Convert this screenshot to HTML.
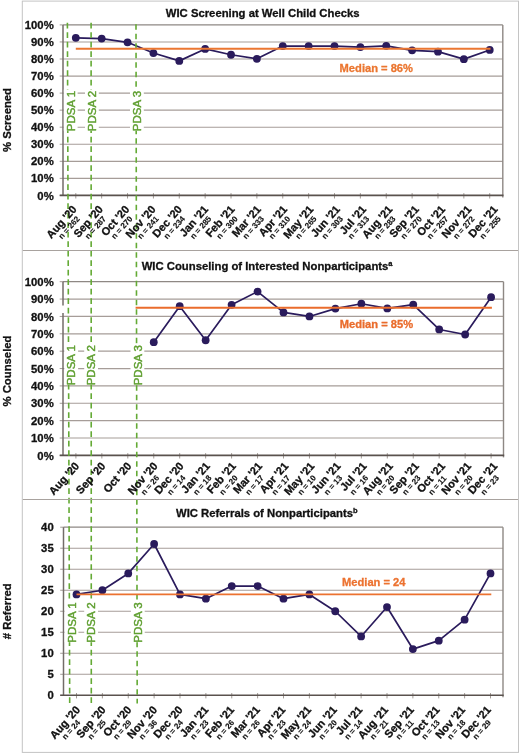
<!DOCTYPE html>
<html><head><meta charset="utf-8"><title>WIC charts</title>
<style>
html,body{margin:0;padding:0;background:#fff;}
body{width:520px;height:754px;overflow:hidden;}
svg{display:block;}
text{font-family:'Liberation Sans', Arial, sans-serif;}
.b{font-size:11.3px;font-weight:bold;fill:#111111;stroke:#111111;stroke-width:0.3px;}
.xl{font-size:11px;}
.n{font-size:8px;font-weight:bold;fill:#111111;stroke:#111111;stroke-width:0.15px;}
.g{font-size:11.5px;fill:#5f9f30;stroke:#5f9f30;stroke-width:0.45px;}
</style></head><body>
<svg width="520" height="754" viewBox="0 0 520 754">
<rect x="0" y="0" width="520" height="754" fill="#fff"/>
<line x1="63" y1="178.35" x2="502.8" y2="178.35" stroke="#a69d98" stroke-width="1.15"/>
<line x1="63" y1="161.3" x2="502.8" y2="161.3" stroke="#a69d98" stroke-width="1.15"/>
<line x1="63" y1="144.25" x2="502.8" y2="144.25" stroke="#a69d98" stroke-width="1.15"/>
<line x1="63" y1="127.2" x2="502.8" y2="127.2" stroke="#a69d98" stroke-width="1.15"/>
<line x1="63" y1="110.15" x2="502.8" y2="110.15" stroke="#a69d98" stroke-width="1.15"/>
<line x1="63" y1="93.1" x2="502.8" y2="93.1" stroke="#a69d98" stroke-width="1.15"/>
<line x1="63" y1="76.05" x2="502.8" y2="76.05" stroke="#a69d98" stroke-width="1.15"/>
<line x1="63" y1="59" x2="502.8" y2="59" stroke="#a69d98" stroke-width="1.15"/>
<line x1="63" y1="41.95" x2="502.8" y2="41.95" stroke="#a69d98" stroke-width="1.15"/>
<line x1="63" y1="24.9" x2="502.8" y2="24.9" stroke="#8e8884" stroke-width="1.3"/>
<line x1="502.8" y1="24.9" x2="502.8" y2="197.4" stroke="#8e8884" stroke-width="1.4"/>
<line x1="59.7" y1="195.4" x2="63" y2="195.4" stroke="#a39c97" stroke-width="1"/>
<line x1="59.7" y1="178.35" x2="63" y2="178.35" stroke="#a39c97" stroke-width="1"/>
<line x1="59.7" y1="161.3" x2="63" y2="161.3" stroke="#a39c97" stroke-width="1"/>
<line x1="59.7" y1="144.25" x2="63" y2="144.25" stroke="#a39c97" stroke-width="1"/>
<line x1="59.7" y1="127.2" x2="63" y2="127.2" stroke="#a39c97" stroke-width="1"/>
<line x1="59.7" y1="110.15" x2="63" y2="110.15" stroke="#a39c97" stroke-width="1"/>
<line x1="59.7" y1="93.1" x2="63" y2="93.1" stroke="#a39c97" stroke-width="1"/>
<line x1="59.7" y1="76.05" x2="63" y2="76.05" stroke="#a39c97" stroke-width="1"/>
<line x1="59.7" y1="59" x2="63" y2="59" stroke="#a39c97" stroke-width="1"/>
<line x1="59.7" y1="41.95" x2="63" y2="41.95" stroke="#a39c97" stroke-width="1"/>
<line x1="59.7" y1="24.9" x2="63" y2="24.9" stroke="#a39c97" stroke-width="1"/>
<line x1="63" y1="24.9" x2="63" y2="195.4" stroke="#736c68" stroke-width="1.5"/>
<line x1="75.8" y1="193.1" x2="75.8" y2="198.5" stroke="#a39c97" stroke-width="1"/>
<line x1="101.67" y1="193.1" x2="101.67" y2="198.5" stroke="#a39c97" stroke-width="1"/>
<line x1="127.54" y1="193.1" x2="127.54" y2="198.5" stroke="#a39c97" stroke-width="1"/>
<line x1="153.41" y1="193.1" x2="153.41" y2="198.5" stroke="#a39c97" stroke-width="1"/>
<line x1="179.28" y1="193.1" x2="179.28" y2="198.5" stroke="#a39c97" stroke-width="1"/>
<line x1="205.15" y1="193.1" x2="205.15" y2="198.5" stroke="#a39c97" stroke-width="1"/>
<line x1="231.02" y1="193.1" x2="231.02" y2="198.5" stroke="#a39c97" stroke-width="1"/>
<line x1="256.89" y1="193.1" x2="256.89" y2="198.5" stroke="#a39c97" stroke-width="1"/>
<line x1="282.76" y1="193.1" x2="282.76" y2="198.5" stroke="#a39c97" stroke-width="1"/>
<line x1="308.63" y1="193.1" x2="308.63" y2="198.5" stroke="#a39c97" stroke-width="1"/>
<line x1="334.5" y1="193.1" x2="334.5" y2="198.5" stroke="#a39c97" stroke-width="1"/>
<line x1="360.37" y1="193.1" x2="360.37" y2="198.5" stroke="#a39c97" stroke-width="1"/>
<line x1="386.24" y1="193.1" x2="386.24" y2="198.5" stroke="#a39c97" stroke-width="1"/>
<line x1="412.11" y1="193.1" x2="412.11" y2="198.5" stroke="#a39c97" stroke-width="1"/>
<line x1="437.98" y1="193.1" x2="437.98" y2="198.5" stroke="#a39c97" stroke-width="1"/>
<line x1="463.85" y1="193.1" x2="463.85" y2="198.5" stroke="#a39c97" stroke-width="1"/>
<line x1="489.72" y1="193.1" x2="489.72" y2="198.5" stroke="#a39c97" stroke-width="1"/>
<line x1="59.7" y1="195.4" x2="503.5" y2="195.4" stroke="#5a524e" stroke-width="1.6"/>
<line x1="63" y1="438.03" x2="503.5" y2="438.03" stroke="#a69d98" stroke-width="1.15"/>
<line x1="63" y1="420.66" x2="503.5" y2="420.66" stroke="#a69d98" stroke-width="1.15"/>
<line x1="63" y1="403.29" x2="503.5" y2="403.29" stroke="#a69d98" stroke-width="1.15"/>
<line x1="63" y1="385.92" x2="503.5" y2="385.92" stroke="#a69d98" stroke-width="1.15"/>
<line x1="63" y1="368.55" x2="503.5" y2="368.55" stroke="#a69d98" stroke-width="1.15"/>
<line x1="63" y1="351.18" x2="503.5" y2="351.18" stroke="#a69d98" stroke-width="1.15"/>
<line x1="63" y1="333.81" x2="503.5" y2="333.81" stroke="#a69d98" stroke-width="1.15"/>
<line x1="63" y1="316.44" x2="503.5" y2="316.44" stroke="#a69d98" stroke-width="1.15"/>
<line x1="63" y1="299.07" x2="503.5" y2="299.07" stroke="#a69d98" stroke-width="1.15"/>
<line x1="63" y1="281.7" x2="503.5" y2="281.7" stroke="#8e8884" stroke-width="1.3"/>
<line x1="503.5" y1="281.7" x2="503.5" y2="457.4" stroke="#8e8884" stroke-width="1.4"/>
<line x1="59.7" y1="455.4" x2="63" y2="455.4" stroke="#a39c97" stroke-width="1"/>
<line x1="59.7" y1="438.03" x2="63" y2="438.03" stroke="#a39c97" stroke-width="1"/>
<line x1="59.7" y1="420.66" x2="63" y2="420.66" stroke="#a39c97" stroke-width="1"/>
<line x1="59.7" y1="403.29" x2="63" y2="403.29" stroke="#a39c97" stroke-width="1"/>
<line x1="59.7" y1="385.92" x2="63" y2="385.92" stroke="#a39c97" stroke-width="1"/>
<line x1="59.7" y1="368.55" x2="63" y2="368.55" stroke="#a39c97" stroke-width="1"/>
<line x1="59.7" y1="351.18" x2="63" y2="351.18" stroke="#a39c97" stroke-width="1"/>
<line x1="59.7" y1="333.81" x2="63" y2="333.81" stroke="#a39c97" stroke-width="1"/>
<line x1="59.7" y1="316.44" x2="63" y2="316.44" stroke="#a39c97" stroke-width="1"/>
<line x1="59.7" y1="299.07" x2="63" y2="299.07" stroke="#a39c97" stroke-width="1"/>
<line x1="59.7" y1="281.7" x2="63" y2="281.7" stroke="#a39c97" stroke-width="1"/>
<line x1="63" y1="281.7" x2="63" y2="305.6" stroke="#736c68" stroke-width="1.5"/>
<line x1="63" y1="313" x2="63" y2="455.4" stroke="#736c68" stroke-width="1.5"/>
<line x1="75.9" y1="453.1" x2="75.9" y2="458.5" stroke="#a39c97" stroke-width="1"/>
<line x1="101.85" y1="453.1" x2="101.85" y2="458.5" stroke="#a39c97" stroke-width="1"/>
<line x1="127.8" y1="453.1" x2="127.8" y2="458.5" stroke="#a39c97" stroke-width="1"/>
<line x1="153.75" y1="453.1" x2="153.75" y2="458.5" stroke="#a39c97" stroke-width="1"/>
<line x1="179.7" y1="453.1" x2="179.7" y2="458.5" stroke="#a39c97" stroke-width="1"/>
<line x1="205.65" y1="453.1" x2="205.65" y2="458.5" stroke="#a39c97" stroke-width="1"/>
<line x1="231.6" y1="453.1" x2="231.6" y2="458.5" stroke="#a39c97" stroke-width="1"/>
<line x1="257.55" y1="453.1" x2="257.55" y2="458.5" stroke="#a39c97" stroke-width="1"/>
<line x1="283.5" y1="453.1" x2="283.5" y2="458.5" stroke="#a39c97" stroke-width="1"/>
<line x1="309.45" y1="453.1" x2="309.45" y2="458.5" stroke="#a39c97" stroke-width="1"/>
<line x1="335.4" y1="453.1" x2="335.4" y2="458.5" stroke="#a39c97" stroke-width="1"/>
<line x1="361.35" y1="453.1" x2="361.35" y2="458.5" stroke="#a39c97" stroke-width="1"/>
<line x1="387.3" y1="453.1" x2="387.3" y2="458.5" stroke="#a39c97" stroke-width="1"/>
<line x1="413.25" y1="453.1" x2="413.25" y2="458.5" stroke="#a39c97" stroke-width="1"/>
<line x1="439.2" y1="453.1" x2="439.2" y2="458.5" stroke="#a39c97" stroke-width="1"/>
<line x1="465.15" y1="453.1" x2="465.15" y2="458.5" stroke="#a39c97" stroke-width="1"/>
<line x1="491.1" y1="453.1" x2="491.1" y2="458.5" stroke="#a39c97" stroke-width="1"/>
<line x1="59.7" y1="455.4" x2="504.2" y2="455.4" stroke="#5a524e" stroke-width="1.6"/>
<line x1="63.5" y1="674.29" x2="503" y2="674.29" stroke="#a69d98" stroke-width="1.15"/>
<line x1="63.5" y1="653.27" x2="503" y2="653.27" stroke="#a69d98" stroke-width="1.15"/>
<line x1="63.5" y1="632.26" x2="503" y2="632.26" stroke="#a69d98" stroke-width="1.15"/>
<line x1="63.5" y1="611.25" x2="503" y2="611.25" stroke="#a69d98" stroke-width="1.15"/>
<line x1="63.5" y1="590.24" x2="503" y2="590.24" stroke="#a69d98" stroke-width="1.15"/>
<line x1="63.5" y1="569.23" x2="503" y2="569.23" stroke="#a69d98" stroke-width="1.15"/>
<line x1="63.5" y1="548.21" x2="503" y2="548.21" stroke="#a69d98" stroke-width="1.15"/>
<line x1="63.5" y1="527.2" x2="503" y2="527.2" stroke="#8e8884" stroke-width="1.3"/>
<line x1="503" y1="527.2" x2="503" y2="697.3" stroke="#8e8884" stroke-width="1.4"/>
<line x1="60.2" y1="695.3" x2="63.5" y2="695.3" stroke="#a39c97" stroke-width="1"/>
<line x1="60.2" y1="674.29" x2="63.5" y2="674.29" stroke="#a39c97" stroke-width="1"/>
<line x1="60.2" y1="653.27" x2="63.5" y2="653.27" stroke="#a39c97" stroke-width="1"/>
<line x1="60.2" y1="632.26" x2="63.5" y2="632.26" stroke="#a39c97" stroke-width="1"/>
<line x1="60.2" y1="611.25" x2="63.5" y2="611.25" stroke="#a39c97" stroke-width="1"/>
<line x1="60.2" y1="590.24" x2="63.5" y2="590.24" stroke="#a39c97" stroke-width="1"/>
<line x1="60.2" y1="569.23" x2="63.5" y2="569.23" stroke="#a39c97" stroke-width="1"/>
<line x1="60.2" y1="548.21" x2="63.5" y2="548.21" stroke="#a39c97" stroke-width="1"/>
<line x1="60.2" y1="527.2" x2="63.5" y2="527.2" stroke="#a39c97" stroke-width="1"/>
<line x1="63.5" y1="527.2" x2="63.5" y2="695.3" stroke="#736c68" stroke-width="1.5"/>
<line x1="76.5" y1="693" x2="76.5" y2="698.4" stroke="#a39c97" stroke-width="1"/>
<line x1="102.38" y1="693" x2="102.38" y2="698.4" stroke="#a39c97" stroke-width="1"/>
<line x1="128.25" y1="693" x2="128.25" y2="698.4" stroke="#a39c97" stroke-width="1"/>
<line x1="154.12" y1="693" x2="154.12" y2="698.4" stroke="#a39c97" stroke-width="1"/>
<line x1="180" y1="693" x2="180" y2="698.4" stroke="#a39c97" stroke-width="1"/>
<line x1="205.88" y1="693" x2="205.88" y2="698.4" stroke="#a39c97" stroke-width="1"/>
<line x1="231.75" y1="693" x2="231.75" y2="698.4" stroke="#a39c97" stroke-width="1"/>
<line x1="257.62" y1="693" x2="257.62" y2="698.4" stroke="#a39c97" stroke-width="1"/>
<line x1="283.5" y1="693" x2="283.5" y2="698.4" stroke="#a39c97" stroke-width="1"/>
<line x1="309.38" y1="693" x2="309.38" y2="698.4" stroke="#a39c97" stroke-width="1"/>
<line x1="335.25" y1="693" x2="335.25" y2="698.4" stroke="#a39c97" stroke-width="1"/>
<line x1="361.12" y1="693" x2="361.12" y2="698.4" stroke="#a39c97" stroke-width="1"/>
<line x1="387" y1="693" x2="387" y2="698.4" stroke="#a39c97" stroke-width="1"/>
<line x1="412.88" y1="693" x2="412.88" y2="698.4" stroke="#a39c97" stroke-width="1"/>
<line x1="438.75" y1="693" x2="438.75" y2="698.4" stroke="#a39c97" stroke-width="1"/>
<line x1="464.62" y1="693" x2="464.62" y2="698.4" stroke="#a39c97" stroke-width="1"/>
<line x1="490.5" y1="693" x2="490.5" y2="698.4" stroke="#a39c97" stroke-width="1"/>
<line x1="60.2" y1="695.3" x2="503.7" y2="695.3" stroke="#5a524e" stroke-width="1.6"/>
<polyline fill="none" stroke="#2a1b5c" stroke-width="1.7" stroke-linejoin="round" points="75.8,37.86 101.67,38.54 127.54,42.29 153.41,53.03 179.28,60.88 205.15,48.94 231.02,54.74 256.89,58.83 282.76,46.04 308.63,46.04 334.5,46.04 360.37,47.06 386.24,45.87 412.11,50.3 437.98,51.67 463.85,59.17 489.72,49.96"/>
<circle cx="75.8" cy="37.86" r="3.9" fill="#2a1b5c"/>
<circle cx="101.67" cy="38.54" r="3.9" fill="#2a1b5c"/>
<circle cx="127.54" cy="42.29" r="3.9" fill="#2a1b5c"/>
<circle cx="153.41" cy="53.03" r="3.9" fill="#2a1b5c"/>
<circle cx="179.28" cy="60.88" r="3.9" fill="#2a1b5c"/>
<circle cx="205.15" cy="48.94" r="3.9" fill="#2a1b5c"/>
<circle cx="231.02" cy="54.74" r="3.9" fill="#2a1b5c"/>
<circle cx="256.89" cy="58.83" r="3.9" fill="#2a1b5c"/>
<circle cx="282.76" cy="46.04" r="3.9" fill="#2a1b5c"/>
<circle cx="308.63" cy="46.04" r="3.9" fill="#2a1b5c"/>
<circle cx="334.5" cy="46.04" r="3.9" fill="#2a1b5c"/>
<circle cx="360.37" cy="47.06" r="3.9" fill="#2a1b5c"/>
<circle cx="386.24" cy="45.87" r="3.9" fill="#2a1b5c"/>
<circle cx="412.11" cy="50.3" r="3.9" fill="#2a1b5c"/>
<circle cx="437.98" cy="51.67" r="3.9" fill="#2a1b5c"/>
<circle cx="463.85" cy="59.17" r="3.9" fill="#2a1b5c"/>
<circle cx="489.72" cy="49.96" r="3.9" fill="#2a1b5c"/>
<polyline fill="none" stroke="#2a1b5c" stroke-width="1.7" stroke-linejoin="round" points="153.75,342.15 179.7,306.19 205.65,340.24 231.6,304.8 257.55,291.6 283.5,312.44 309.45,316.44 335.4,308.62 361.35,303.76 387.3,308.45 413.25,304.63 439.2,329.47 465.15,334.5 491.1,297.16"/>
<circle cx="153.75" cy="342.15" r="3.9" fill="#2a1b5c"/>
<circle cx="179.7" cy="306.19" r="3.9" fill="#2a1b5c"/>
<circle cx="205.65" cy="340.24" r="3.9" fill="#2a1b5c"/>
<circle cx="231.6" cy="304.8" r="3.9" fill="#2a1b5c"/>
<circle cx="257.55" cy="291.6" r="3.9" fill="#2a1b5c"/>
<circle cx="283.5" cy="312.44" r="3.9" fill="#2a1b5c"/>
<circle cx="309.45" cy="316.44" r="3.9" fill="#2a1b5c"/>
<circle cx="335.4" cy="308.62" r="3.9" fill="#2a1b5c"/>
<circle cx="361.35" cy="303.76" r="3.9" fill="#2a1b5c"/>
<circle cx="387.3" cy="308.45" r="3.9" fill="#2a1b5c"/>
<circle cx="413.25" cy="304.63" r="3.9" fill="#2a1b5c"/>
<circle cx="439.2" cy="329.47" r="3.9" fill="#2a1b5c"/>
<circle cx="465.15" cy="334.5" r="3.9" fill="#2a1b5c"/>
<circle cx="491.1" cy="297.16" r="3.9" fill="#2a1b5c"/>
<polyline fill="none" stroke="#2a1b5c" stroke-width="1.7" stroke-linejoin="round" points="76.5,594.44 102.38,590.24 128.25,573.43 154.12,544.01 180,594.44 205.88,598.64 231.75,586.03 257.62,586.03 283.5,598.64 309.38,594.44 335.25,611.25 361.12,636.47 387,607.05 412.88,649.07 438.75,640.67 464.62,619.65 490.5,573.43"/>
<circle cx="76.5" cy="594.44" r="3.9" fill="#2a1b5c"/>
<circle cx="102.38" cy="590.24" r="3.9" fill="#2a1b5c"/>
<circle cx="128.25" cy="573.43" r="3.9" fill="#2a1b5c"/>
<circle cx="154.12" cy="544.01" r="3.9" fill="#2a1b5c"/>
<circle cx="180" cy="594.44" r="3.9" fill="#2a1b5c"/>
<circle cx="205.88" cy="598.64" r="3.9" fill="#2a1b5c"/>
<circle cx="231.75" cy="586.03" r="3.9" fill="#2a1b5c"/>
<circle cx="257.62" cy="586.03" r="3.9" fill="#2a1b5c"/>
<circle cx="283.5" cy="598.64" r="3.9" fill="#2a1b5c"/>
<circle cx="309.38" cy="594.44" r="3.9" fill="#2a1b5c"/>
<circle cx="335.25" cy="611.25" r="3.9" fill="#2a1b5c"/>
<circle cx="361.12" cy="636.47" r="3.9" fill="#2a1b5c"/>
<circle cx="387" cy="607.05" r="3.9" fill="#2a1b5c"/>
<circle cx="412.88" cy="649.07" r="3.9" fill="#2a1b5c"/>
<circle cx="438.75" cy="640.67" r="3.9" fill="#2a1b5c"/>
<circle cx="464.62" cy="619.65" r="3.9" fill="#2a1b5c"/>
<circle cx="490.5" cy="573.43" r="3.9" fill="#2a1b5c"/>
<line x1="67.4" y1="22.8" x2="69.7" y2="703.5" stroke="#64aa35" stroke-width="1.6" stroke-dasharray="5.6 3.9"/>
<line x1="91.1" y1="22.8" x2="91.3" y2="703.5" stroke="#64aa35" stroke-width="1.6" stroke-dasharray="5.6 3.9"/>
<line x1="136" y1="24.2" x2="137.2" y2="703.5" stroke="#64aa35" stroke-width="1.6" stroke-dasharray="5.6 3.9"/>
<line x1="75.8" y1="48.77" x2="490.52" y2="48.77" stroke="#eb7630" stroke-width="2.0"/>
<line x1="135.6" y1="307.75" x2="491.9" y2="307.75" stroke="#ea6c2c" stroke-width="2.0"/>
<line x1="76.5" y1="594.44" x2="491.3" y2="594.44" stroke="#ec7230" stroke-width="1.8"/>
<text x="53.7" y="199.5" text-anchor="end" class="b">0%</text>
<text x="53.7" y="182.45" text-anchor="end" class="b">10%</text>
<text x="53.7" y="165.4" text-anchor="end" class="b">20%</text>
<text x="53.7" y="148.35" text-anchor="end" class="b">30%</text>
<text x="53.7" y="131.3" text-anchor="end" class="b">40%</text>
<text x="53.7" y="114.25" text-anchor="end" class="b">50%</text>
<text x="53.7" y="97.2" text-anchor="end" class="b">60%</text>
<text x="53.7" y="80.15" text-anchor="end" class="b">70%</text>
<text x="53.7" y="63.1" text-anchor="end" class="b">80%</text>
<text x="53.7" y="46.05" text-anchor="end" class="b">90%</text>
<text x="53.7" y="29" text-anchor="end" class="b">100%</text>
<text x="165.8" y="17.3" class="b">WIC Screening at Well Child Checks</text>
<text x="339.6" y="71.9" class="b" style="font-size:11.15px;fill:#eb7630;stroke:#eb7630">Median = 86%</text>
<text transform="translate(11.2,120) rotate(-90)" text-anchor="middle" class="b">% Screened</text>
<text transform="translate(77.3,209.7) rotate(-48.5)" text-anchor="end" class="b xl">Aug '20</text>
<text transform="translate(62.06,239.61) rotate(-48.5)" class="n">n = 262</text>
<text transform="translate(103.62,209.7) rotate(-48.5)" text-anchor="end" class="b xl">Sep '20</text>
<text transform="translate(88.38,239.61) rotate(-48.5)" class="n">n = 287</text>
<text transform="translate(129.94,209.7) rotate(-48.5)" text-anchor="end" class="b xl">Oct '20</text>
<text transform="translate(114.7,239.61) rotate(-48.5)" class="n">n = 270</text>
<text transform="translate(156.26,209.7) rotate(-48.5)" text-anchor="end" class="b xl">Nov '20</text>
<text transform="translate(141.02,239.61) rotate(-48.5)" class="n">n = 241</text>
<text transform="translate(182.58,209.7) rotate(-48.5)" text-anchor="end" class="b xl">Dec '20</text>
<text transform="translate(167.34,239.61) rotate(-48.5)" class="n">n = 234</text>
<text transform="translate(208.9,209.7) rotate(-48.5)" text-anchor="end" class="b xl">Jan '21</text>
<text transform="translate(193.66,239.61) rotate(-48.5)" class="n">n = 285</text>
<text transform="translate(235.22,209.7) rotate(-48.5)" text-anchor="end" class="b xl">Feb '21</text>
<text transform="translate(219.98,239.61) rotate(-48.5)" class="n">n = 300</text>
<text transform="translate(261.54,209.7) rotate(-48.5)" text-anchor="end" class="b xl">Mar '21</text>
<text transform="translate(246.3,239.61) rotate(-48.5)" class="n">n = 333</text>
<text transform="translate(287.86,209.7) rotate(-48.5)" text-anchor="end" class="b xl">Apr '21</text>
<text transform="translate(272.62,239.61) rotate(-48.5)" class="n">n = 310</text>
<text transform="translate(314.18,209.7) rotate(-48.5)" text-anchor="end" class="b xl">May '21</text>
<text transform="translate(298.94,239.61) rotate(-48.5)" class="n">n = 265</text>
<text transform="translate(340.5,209.7) rotate(-48.5)" text-anchor="end" class="b xl">Jun '21</text>
<text transform="translate(325.26,239.61) rotate(-48.5)" class="n">n = 303</text>
<text transform="translate(366.82,209.7) rotate(-48.5)" text-anchor="end" class="b xl">Jul '21</text>
<text transform="translate(351.58,239.61) rotate(-48.5)" class="n">n = 313</text>
<text transform="translate(393.14,209.7) rotate(-48.5)" text-anchor="end" class="b xl">Aug '21</text>
<text transform="translate(377.9,239.61) rotate(-48.5)" class="n">n = 283</text>
<text transform="translate(419.46,209.7) rotate(-48.5)" text-anchor="end" class="b xl">Sep '21</text>
<text transform="translate(404.22,239.61) rotate(-48.5)" class="n">n = 270</text>
<text transform="translate(445.78,209.7) rotate(-48.5)" text-anchor="end" class="b xl">Oct '21</text>
<text transform="translate(430.54,239.61) rotate(-48.5)" class="n">n = 257</text>
<text transform="translate(472.1,209.7) rotate(-48.5)" text-anchor="end" class="b xl">Nov '21</text>
<text transform="translate(456.86,239.61) rotate(-48.5)" class="n">n = 272</text>
<text transform="translate(498.42,209.7) rotate(-48.5)" text-anchor="end" class="b xl">Dec '21</text>
<text transform="translate(483.18,239.61) rotate(-48.5)" class="n">n = 255</text>
<text x="53.7" y="459.5" text-anchor="end" class="b">0%</text>
<text x="53.7" y="442.13" text-anchor="end" class="b">10%</text>
<text x="53.7" y="424.76" text-anchor="end" class="b">20%</text>
<text x="53.7" y="407.39" text-anchor="end" class="b">30%</text>
<text x="53.7" y="390.02" text-anchor="end" class="b">40%</text>
<text x="53.7" y="372.65" text-anchor="end" class="b">50%</text>
<text x="53.7" y="355.28" text-anchor="end" class="b">60%</text>
<text x="53.7" y="337.91" text-anchor="end" class="b">70%</text>
<text x="53.7" y="320.54" text-anchor="end" class="b">80%</text>
<text x="53.7" y="303.17" text-anchor="end" class="b">90%</text>
<text x="53.7" y="285.8" text-anchor="end" class="b">100%</text>
<text x="141.7" y="270.3" class="b">WIC Counseling of Interested Nonparticipants<tspan font-size="7.5" dy="-4">a</tspan></text>
<text x="339.7" y="327.7" class="b" style="font-size:11.15px;fill:#ea6c2c;stroke:#ea6c2c">Median = 85%</text>
<text transform="translate(11.2,371) rotate(-90)" text-anchor="middle" class="b">% Counseled</text>
<text transform="translate(79.9,466.3) rotate(-48.5)" text-anchor="end" class="b xl">Aug '20</text>
<text transform="translate(106.03,466.3) rotate(-48.5)" text-anchor="end" class="b xl">Sep '20</text>
<text transform="translate(132.16,466.3) rotate(-48.5)" text-anchor="end" class="b xl">Oct '20</text>
<text transform="translate(158.29,466.3) rotate(-48.5)" text-anchor="end" class="b xl">Nov '20</text>
<text transform="translate(144.56,495.41) rotate(-48.5)" class="n">n = 26</text>
<text transform="translate(184.42,466.3) rotate(-48.5)" text-anchor="end" class="b xl">Dec '20</text>
<text transform="translate(170.69,495.41) rotate(-48.5)" class="n">n = 14</text>
<text transform="translate(210.55,466.3) rotate(-48.5)" text-anchor="end" class="b xl">Jan '21</text>
<text transform="translate(196.82,495.41) rotate(-48.5)" class="n">n = 18</text>
<text transform="translate(236.68,466.3) rotate(-48.5)" text-anchor="end" class="b xl">Feb '21</text>
<text transform="translate(222.95,495.41) rotate(-48.5)" class="n">n = 20</text>
<text transform="translate(262.81,466.3) rotate(-48.5)" text-anchor="end" class="b xl">Mar '21</text>
<text transform="translate(249.08,495.41) rotate(-48.5)" class="n">n = 17</text>
<text transform="translate(288.94,466.3) rotate(-48.5)" text-anchor="end" class="b xl">Apr '21</text>
<text transform="translate(275.21,495.41) rotate(-48.5)" class="n">n = 17</text>
<text transform="translate(315.07,466.3) rotate(-48.5)" text-anchor="end" class="b xl">May '21</text>
<text transform="translate(301.34,495.41) rotate(-48.5)" class="n">n = 10</text>
<text transform="translate(341.2,466.3) rotate(-48.5)" text-anchor="end" class="b xl">Jun '21</text>
<text transform="translate(327.47,495.41) rotate(-48.5)" class="n">n = 13</text>
<text transform="translate(367.33,466.3) rotate(-48.5)" text-anchor="end" class="b xl">Jul '21</text>
<text transform="translate(353.6,495.41) rotate(-48.5)" class="n">n = 16</text>
<text transform="translate(393.46,466.3) rotate(-48.5)" text-anchor="end" class="b xl">Aug '21</text>
<text transform="translate(379.73,495.41) rotate(-48.5)" class="n">n = 20</text>
<text transform="translate(419.59,466.3) rotate(-48.5)" text-anchor="end" class="b xl">Sep '21</text>
<text transform="translate(405.86,495.41) rotate(-48.5)" class="n">n = 23</text>
<text transform="translate(445.72,466.3) rotate(-48.5)" text-anchor="end" class="b xl">Oct '21</text>
<text transform="translate(431.99,495.41) rotate(-48.5)" class="n">n = 11</text>
<text transform="translate(471.85,466.3) rotate(-48.5)" text-anchor="end" class="b xl">Nov '21</text>
<text transform="translate(458.12,495.41) rotate(-48.5)" class="n">n = 20</text>
<text transform="translate(497.98,466.3) rotate(-48.5)" text-anchor="end" class="b xl">Dec '21</text>
<text transform="translate(484.25,495.41) rotate(-48.5)" class="n">n = 23</text>
<text x="53.7" y="699.4" text-anchor="end" class="b">0</text>
<text x="53.7" y="678.39" text-anchor="end" class="b">5</text>
<text x="53.7" y="657.38" text-anchor="end" class="b">10</text>
<text x="53.7" y="636.36" text-anchor="end" class="b">15</text>
<text x="53.7" y="615.35" text-anchor="end" class="b">20</text>
<text x="53.7" y="594.34" text-anchor="end" class="b">25</text>
<text x="53.7" y="573.33" text-anchor="end" class="b">30</text>
<text x="53.7" y="552.31" text-anchor="end" class="b">35</text>
<text x="53.7" y="531.3" text-anchor="end" class="b">40</text>
<text x="176" y="517.3" class="b">WIC Referrals of Nonparticipants<tspan font-size="7.5" dy="-4">b</tspan></text>
<text x="342" y="585.6" class="b" style="font-size:11.15px;fill:#ec7230;stroke:#ec7230">Median = 24</text>
<text transform="translate(11.2,611.2) rotate(-90)" text-anchor="middle" class="b"># Referred</text>
<text transform="translate(80.7,710.2) rotate(-48.5)" text-anchor="end" class="b xl">Aug '20</text>
<text transform="translate(65.46,740.11) rotate(-48.5)" class="n">n = 24</text>
<text transform="translate(106.38,710.2) rotate(-48.5)" text-anchor="end" class="b xl">Sep '20</text>
<text transform="translate(91.14,740.11) rotate(-48.5)" class="n">n = 25</text>
<text transform="translate(132.06,710.2) rotate(-48.5)" text-anchor="end" class="b xl">Oct '20</text>
<text transform="translate(116.82,740.11) rotate(-48.5)" class="n">n = 29</text>
<text transform="translate(157.74,710.2) rotate(-48.5)" text-anchor="end" class="b xl">Nov '20</text>
<text transform="translate(142.5,740.11) rotate(-48.5)" class="n">n = 36</text>
<text transform="translate(183.42,710.2) rotate(-48.5)" text-anchor="end" class="b xl">Dec '20</text>
<text transform="translate(168.18,740.11) rotate(-48.5)" class="n">n = 24</text>
<text transform="translate(209.1,710.2) rotate(-48.5)" text-anchor="end" class="b xl">Jan '21</text>
<text transform="translate(193.86,740.11) rotate(-48.5)" class="n">n = 23</text>
<text transform="translate(234.78,710.2) rotate(-48.5)" text-anchor="end" class="b xl">Feb '21</text>
<text transform="translate(219.54,740.11) rotate(-48.5)" class="n">n = 26</text>
<text transform="translate(260.46,710.2) rotate(-48.5)" text-anchor="end" class="b xl">Mar '21</text>
<text transform="translate(245.22,740.11) rotate(-48.5)" class="n">n = 26</text>
<text transform="translate(286.14,710.2) rotate(-48.5)" text-anchor="end" class="b xl">Apr '21</text>
<text transform="translate(270.9,740.11) rotate(-48.5)" class="n">n = 23</text>
<text transform="translate(311.82,710.2) rotate(-48.5)" text-anchor="end" class="b xl">May '21</text>
<text transform="translate(296.58,740.11) rotate(-48.5)" class="n">n = 24</text>
<text transform="translate(337.5,710.2) rotate(-48.5)" text-anchor="end" class="b xl">Jun '21</text>
<text transform="translate(322.26,740.11) rotate(-48.5)" class="n">n = 20</text>
<text transform="translate(363.18,710.2) rotate(-48.5)" text-anchor="end" class="b xl">Jul '21</text>
<text transform="translate(347.94,740.11) rotate(-48.5)" class="n">n = 14</text>
<text transform="translate(388.86,710.2) rotate(-48.5)" text-anchor="end" class="b xl">Aug '21</text>
<text transform="translate(373.62,740.11) rotate(-48.5)" class="n">n = 21</text>
<text transform="translate(414.54,710.2) rotate(-48.5)" text-anchor="end" class="b xl">Sep '21</text>
<text transform="translate(399.3,740.11) rotate(-48.5)" class="n">n = 11</text>
<text transform="translate(440.22,710.2) rotate(-48.5)" text-anchor="end" class="b xl">Oct '21</text>
<text transform="translate(424.98,740.11) rotate(-48.5)" class="n">n = 13</text>
<text transform="translate(465.9,710.2) rotate(-48.5)" text-anchor="end" class="b xl">Nov '21</text>
<text transform="translate(450.66,740.11) rotate(-48.5)" class="n">n = 18</text>
<text transform="translate(491.58,710.2) rotate(-48.5)" text-anchor="end" class="b xl">Dec '21</text>
<text transform="translate(476.34,740.11) rotate(-48.5)" class="n">n = 29</text>
<rect x="63.8" y="89.5" width="13.8" height="41.2" fill="#fff"/>
<text transform="translate(74.9,131.2) rotate(-90)" class="g">PDSA 1</text>
<rect x="85" y="89.5" width="13.8" height="41.2" fill="#fff"/>
<text transform="translate(96.1,131.2) rotate(-90)" class="g">PDSA 2</text>
<rect x="130" y="89.5" width="13.8" height="41.2" fill="#fff"/>
<text transform="translate(141.1,131.2) rotate(-90)" class="g">PDSA 3</text>
<rect x="64.3" y="343.7" width="13.8" height="41.1" fill="#fff"/>
<text transform="translate(75.4,385.3) rotate(-90)" class="g">PDSA 1</text>
<rect x="84.2" y="343.7" width="13.8" height="41.1" fill="#fff"/>
<text transform="translate(95.3,385.3) rotate(-90)" class="g">PDSA 2</text>
<rect x="130.5" y="343.7" width="13.8" height="41.1" fill="#fff"/>
<text transform="translate(141.6,385.3) rotate(-90)" class="g">PDSA 3</text>
<rect x="64.6" y="599.7" width="13.8" height="42.5" fill="#fff"/>
<text transform="translate(75.7,642.7) rotate(-90)" class="g">PDSA 1</text>
<rect x="84.2" y="599.7" width="13.8" height="42.5" fill="#fff"/>
<text transform="translate(95.3,642.7) rotate(-90)" class="g">PDSA 2</text>
<rect x="130.9" y="599.7" width="13.8" height="42.5" fill="#fff"/>
<text transform="translate(142,642.7) rotate(-90)" class="g">PDSA 3</text>
<line x1="22.5" y1="250.5" x2="518.5" y2="250.5" stroke="#a8a29e" stroke-width="1"/>
<line x1="22.5" y1="499.5" x2="518.5" y2="499.5" stroke="#a8a29e" stroke-width="1"/>
<rect x="22.3" y="1.1" width="496.2" height="751.3" fill="none" stroke="#c4c4c4" stroke-width="1"/>
</svg>
</body></html>
